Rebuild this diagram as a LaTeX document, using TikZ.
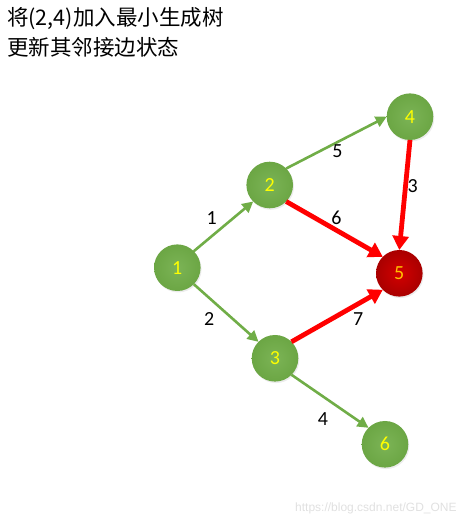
\documentclass[tikz,border=0pt]{standalone}
\usepackage{fontspec}
\setmainfont{Carlito}
\newfontfamily\cjkfont{Noto Sans CJK SC}
\newfontfamily\urlfont{Liberation Sans}
\usepackage{xcolor}
\definecolor{treegreen}{HTML}{70AD47}
\definecolor{vertexred}{HTML}{C00000}
\definecolor{edgered}{HTML}{FF0000}
\definecolor{digityellow}{HTML}{FFFF00}
\definecolor{digitorange}{HTML}{FFC000}
\colorlet{treegreeninner}{treegreen!92!white}
\colorlet{treegreenouter}{treegreen!96!black}
\colorlet{vertexredinner}{vertexred!70!red}
\colorlet{vertexredouter}{vertexred!88!black}
\colorlet{watermarkgray}{black!12}
\usetikzlibrary{
  arrows.meta,
  shadows,
}
\tikzstyle{basicvertex}=[circle, minimum size=46.6pt, inner sep=0pt, outer sep=0pt, font=\fontsize{20}{20}\selectfont, drop shadow={opacity=0.15, shadow xshift=1pt, shadow yshift=-1.5pt}]
\tikzstyle{treevertex}=[basicvertex, inner color=treegreeninner, outer color=treegreenouter, text=digityellow]
\tikzstyle{redvertex}=[basicvertex, inner color=vertexredinner, outer color=vertexredouter, text=digitorange]
\tikzstyle{treeedge}=[draw=treegreen, line width=2.6pt, -{Triangle[length=11pt, width=11pt]}]
\tikzstyle{rededge}=[draw=edgered, line width=4.8pt, -{Triangle[length=14pt, width=16pt]}]
\tikzstyle{weightlabel}=[font=\fontsize{20}{20}\selectfont, inner sep=0pt, text=black]
\tikzstyle{titletext}=[font=\cjkfont\fontsize{21.5}{21.5}\selectfont, inner sep=0pt, anchor=base west]

\begin{document}
\begin{tikzpicture}
	\useasboundingbox (0,0) rectangle (474pt,522pt);
	\node (title) [titletext] at (7pt,496.5pt) {将(2,4)加入最小生成树};
	\node (subtitle) [titletext] at (7pt,466.5pt) {更新其邻接边状态};
	\node (v1) [treevertex] at (177.3pt,254.3pt) {1};
	\path (v1) + (92.4pt,82.7pt) node (v2) [treevertex] {2};
	\path (v1) + (97.7pt,-90.6pt) node (v3) [treevertex] {3};
	\path (v1) + (232.7pt,151pt) node (v4) [treevertex] {4};
	\path (v1) + (222pt,-5.6pt) node (v5) [redvertex] {5};
	\path (v1) + (207.7pt,-176.6pt) node (v6) [treevertex] {6};
	\draw [treeedge] (v1.45) -- (v2.225) node [weightlabel, midway, shift={(-11.8pt,8.1pt)}] {1};
	\draw [treeedge] (v1.-45) -- (v3.135) node [weightlabel, midway, shift={(-17pt,-6pt)}] {2};
	\draw [treeedge] (v2.45) -- (v4.west) node [weightlabel, midway, shift={(1pt,-9pt)}] {5};
	\draw [treeedge] (v3.-45) -- (v6.135) node [weightlabel, midway, shift={(-7pt,-18pt)}] {4};
	\draw [rededge] (v4.south) -- (v5.north) node [weightlabel, midway, shift={(8pt,9pt)}] {3};
	\draw [rededge] (v2.-45) -- (v5.135) node [weightlabel, midway, shift={(2pt,11pt)}] {6};
	\draw [rededge] (v3.45) -- (v5.225) node [weightlabel, midway, shift={(21pt,-3.5pt)}] {7};
	\node (watermark) [font=\urlfont\fontsize{12}{12}\selectfont, text=watermarkgray, inner sep=0pt, anchor=base west] at (295pt,10.5pt) {https://blog.csdn.net/GD\_ONE};
\end{tikzpicture}
\end{document}
